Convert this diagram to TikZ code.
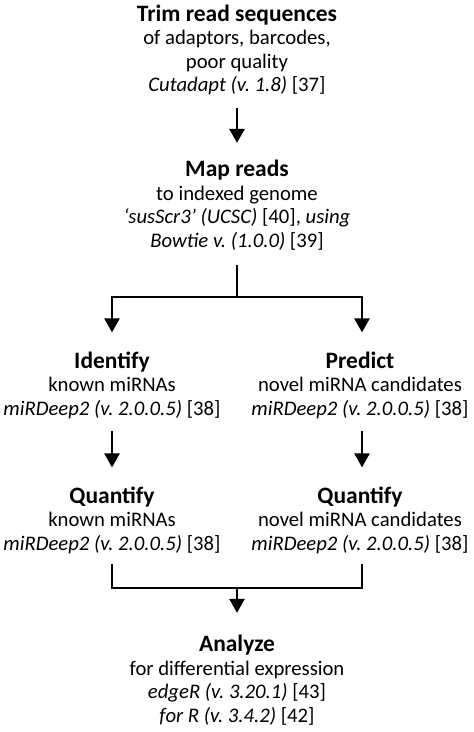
\documentclass[tikz,border=0pt]{standalone}
\usepackage{fontspec}
\setmainfont{Carlito}
\usetikzlibrary{arrows.meta}
\newcommand{\ttlfont}{\fontsize{23.5}{23.5}\selectfont\bfseries}
\begin{document}
\begin{tikzpicture}[x=1pt,y=-1pt,
  blk/.style={align=center,inner sep=0pt,font=\fontsize{20.7}{23.5}\selectfont},
  ln/.style={line width=2.5pt},
  arr/.style={ln,-{Triangle[width=15pt,length=14pt]}}]
\useasboundingbox[fill=white] (0,0) rectangle (474,732);
\node[blk] (trim) at (237,50) {{\ttlfont Trim read sequences}\\ of adaptors, barcodes,\\ poor quality\\ \textit{Cutadapt (v.\ 1.8)} [37]};
\node[blk] (map) at (237,205) {{\ttlfont Map reads}\\ to indexed genome\\ \textit{‘susScr3’ (UCSC)} [40], \textit{using}\\ \textit{Bowtie v.\ (1.0.0)} [39]};
\node[blk] (ident) at (112,385) {{\ttlfont Identify}\\ known miRNAs\\ \textit{miRDeep2 (v.\ 2.0.0.5)} [38]};
\node[blk] (pred) at (360,385) {{\ttlfont Predict}\\ novel miRNA candidates\\ \textit{miRDeep2 (v.\ 2.0.0.5)} [38]};
\node[blk] (quantk) at (112,520) {{\ttlfont Quantify}\\ known miRNAs\\ \textit{miRDeep2 (v.\ 2.0.0.5)} [38]};
\node[blk] (quantn) at (360,520) {{\ttlfont Quantify}\\ novel miRNA candidates\\ \textit{miRDeep2 (v.\ 2.0.0.5)} [38]};
\node[blk] (anal) at (237,680) {{\ttlfont Analyze}\\ for differential expression\\ \textit{edgeR (v.\ 3.20.1)} [43]\\ \textit{for R (v.\ 3.4.2)} [42]};
\coordinate (split) at (237,297);
\coordinate (merge) at (237,588);
\draw[arr] ([yshift=-13pt]trim.south) -- ([yshift=17pt]map.north);
\draw[ln] ([yshift=-15pt]map.south) -- (split);
\draw[arr] (split) -| ([xshift=0pt,yshift=19pt]ident.north);
\draw[arr] (split) -| ([xshift=2pt,yshift=19pt]pred.north);
\draw[arr] ([yshift=-12pt]ident.south) -- ([yshift=19pt]quantk.north);
\draw[arr] ([xshift=2pt,yshift=-12pt]pred.south) -- ([xshift=2pt,yshift=19pt]quantn.north);
\draw[ln] ([yshift=-10pt]quantk.south) |- (merge);
\draw[ln] ([xshift=2pt,yshift=-10pt]quantn.south) |- (merge);
\draw[arr] (merge) -- ([yshift=22pt]anal.north);
\end{tikzpicture}
\end{document}
